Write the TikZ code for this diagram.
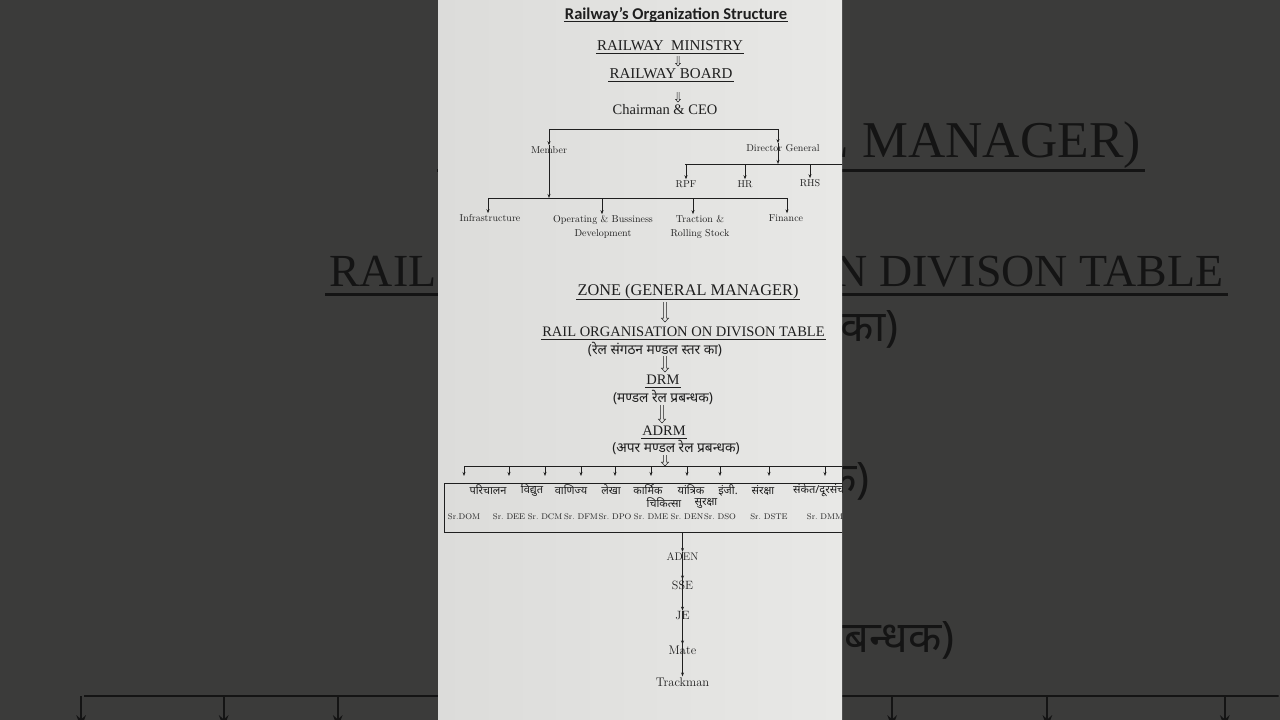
\documentclass[tikz,border=0pt]{standalone}
\usepackage{fontspec}
\usetikzlibrary{arrows.meta}
\newfontfamily\hindi[Script=Devanagari]{Noto Sans}
\newfontfamily\timesf{Liberation Serif}
\newfontfamily\calib{Carlito}

\definecolor{wall}{HTML}{3B3B3A}
\definecolor{paperL}{HTML}{DCDCDA}
\definecolor{paperR}{HTML}{E8E8E6}
\colorlet{ink}{black!88}

\tikzset{
  lbl/.style={text=ink, inner sep=1pt, font=\fontsize{10}{14}\selectfont},
  head/.style={text=ink, inner sep=1pt, font=\timesf\fontsize{15}{17}\selectfont},
  hin/.style={text=ink, inner sep=1pt, font=\hindi\fontsize{13.7}{15}\selectfont},
  hinsm/.style={text=ink, inner sep=0pt, font=\hindi\fontsize{11}{12}\selectfont},
  srcode/.style={text=ink, inner sep=1pt, font=\fontsize{8.2}{10}\selectfont},
  rank/.style={text=ink, inner sep=1pt, font=\fontsize{12}{14}\selectfont},
  link/.style={draw=ink, line width=0.7pt},
  uln/.style={draw=ink, line width=1pt},
}

% underline below the base line of a node
\newcommand\undr[2]{\draw[uln] ([yshift=-#2]#1.base west) -- ([yshift=-#2]#1.base east);}
% hollow down arrow: x, top, bottom, half width of shaft
\newcommand\hollowdown[4]{\draw[ink, line width=0.5pt]
  (#1-#4,#2) -- (#1-#4,#3-2.6*#4) -- (#1-2.4*#4,#3-2.6*#4) -- (#1,#3)
  -- (#1+2.4*#4,#3-2.6*#4) -- (#1+#4,#3-2.6*#4) -- (#1+#4,#2);}

\newcommand\railchart{%
\begin{scope}
\clip (438,0) rectangle (842,720);
% top part
\node[text=ink, inner sep=1pt, font=\calib\bfseries\fontsize{16.5}{18}\selectfont] (title) at (676,15) {Railway’s Organization Structure};
\undr{title}{2pt}
\node[head] (ministry) at (670,46) {RAILWAY\ \ MINISTRY};
\undr{ministry}{2.5pt}
\hollowdown{678}{56}{66}{1}
\node[head] (board) at (671,74) {RAILWAY BOARD};
\undr{board}{2.5pt}
\hollowdown{678}{92}{102}{1}
\node[head, font=\timesf\fontsize{14.5}{16}\selectfont] (ceo) at (665,110) {Chairman \& CEO};
\node[lbl] (member) at (549,150) {Member};
\node[lbl] (dg) at (783,148) {Director General};
\node[lbl] (rpf) at (686,184) {RPF};
\node[lbl] (hr) at (745,184) {HR};
\node[lbl] (rhs) at (810,183) {RHS};
\node[lbl] (infra) at (490,218) {Infrastructure};
\node[lbl, align=center] (oper) at (603,227) {Operating \& Bussiness\\Development};
\node[lbl, align=center] (trac) at (700,227) {Traction \&\\Rolling Stock};
\node[lbl] (fin) at (786,218) {Finance};
\coordinate (mtop) at (549,129);
\coordinate (dtop) at (778,129);
\coordinate (lbar) at (488,198);
\coordinate (dbar) at (685,164);
\draw[link] (mtop) -- (dtop);
\draw[link,->] (mtop) -- (member.north);
\draw[link,->] (dtop) -- (dtop |- dg.north);
\draw[link,->] (member.north) -- (member.north |- lbar);
\draw[link] (lbar) -- (787,198);
\foreach \n/\px in {infra/488, oper/602, trac/693, fin/787}
  \draw[link,->] (\px,198) -- (\px,0 |- \n.north);
\draw[link,->] (dtop |- dg.north) -- (dtop |- dbar);
\draw[link] (dbar) -- (850,164);
\foreach \n in {rpf,hr,rhs}
  \draw[link,->] (\n.north |- dbar) -- (\n.north);
% division part
\node[head, font=\timesf\fontsize{16.3}{18}\selectfont] (zone) at (688,292) {ZONE (GENERAL MANAGER)};
\undr{zone}{4pt}
\hollowdown{665}{302}{322}{1.5}
\node[head, font=\timesf\fontsize{14.5}{16}\selectfont] (railorg) at (683.5,332) {RAIL ORGANISATION ON DIVISON TABLE};
\undr{railorg}{2.5pt}
\node[hin] (railorghi) at (655,349) {(रेल संगठन मण्डल स्तर का)};
\hollowdown{665}{356}{372}{1.5}
\node[head, font=\timesf\fontsize{14.5}{16}\selectfont] (drm) at (663,380) {DRM};
\undr{drm}{2.5pt}
\node[hin] (drmhi) at (663,397) {(मण्डल रेल प्रबन्धक)};
\hollowdown{662}{405}{423}{1.5}
\node[head, font=\timesf\fontsize{14.5}{16}\selectfont] (adrm) at (664,431) {ADRM};
\undr{adrm}{2.5pt}
\node[hin] (adrmhi) at (676,447) {(अपर मण्डल रेल प्रबन्धक)};
\hollowdown{665}{455}{466}{1.5}
% departments
\coordinate (deptbar) at (465,466);
\coordinate (depttip) at (465,476);
\draw[link] (deptbar) -- (870,466);
\draw[link] (444,483) rectangle (880,532);
\node[hinsm] (parichalan) at (488,490) {परिचालन};
\node[hinsm] (vidyut) at (532,490) {विद्युत};
\node[hinsm] (vanijya) at (571,490) {वाणिज्य};
\node[hinsm] (lekha) at (611,490) {लेखा};
\node[hinsm] (karmik) at (648,490) {कार्मिक};
\node[hinsm] (yantrik) at (691,490) {यांत्रिक};
\node[hinsm] (inji) at (728,490) {इंजी.};
\node[hinsm] (sanraksha) at (763,490) {संरक्षा};
\node[hinsm, anchor=west] (sanket) at (793,490) {संकेत/दूरसंचार};
\node[hinsm] (chikitsa) at (664,503) {चिकित्सा};
\node[hinsm] (suraksha) at (706,503) {सुरक्षा};
\foreach \i/\px/\t in {1/464/Sr.DOM, 2/509/Sr.\ DEE, 3/545/Sr.\ DCM, 4/581/Sr.\ DFM,
  5/615/Sr.\ DPO, 6/651/Sr.\ DME, 7/687/Sr.\ DEN, 8/720/Sr.\ DSO, 9/769/Sr.\ DSTE, 10/825/Sr.\ DMM}
  \node[srcode] (sr\i) at (\px,517) {\t};
\foreach \i in {1,...,10}
  \draw[link,->] (sr\i |- deptbar) -- (sr\i |- depttip);
% field staff
\coordinate (boxbot) at (682.5,532);
\node[rank, font=\fontsize{11}{13}\selectfont] (aden) at (682.5,557) {ADEN};
\node[rank] (sse) at (682.5,585) {SSE};
\node[rank] (je) at (682.5,616) {JE};
\node[rank, font=\fontsize{12.5}{14}\selectfont] (mate) at (682.5,650) {Mate};
\node[rank, font=\fontsize{12.5}{14}\selectfont] (trackman) at (682.5,682) {Trackman};
\draw[link,->] (boxbot) -- (aden.north);
\draw[link,->] (aden.north) -- (sse.north);
\draw[link,->] (sse.north) -- (je.north);
\draw[link,->] (je.north) -- (mate.north);
\draw[link,->] (mate.north) -- (trackman.north);
\end{scope}}

\begin{document}
\begin{tikzpicture}[x=1pt,y=-1pt,>={Stealth[length=4pt,width=3pt]}]
\useasboundingbox (0,0) rectangle (1280,720);
\clip (0,0) rectangle (1280,720);
\fill[wall] (0,0) rectangle (1280,720);
% blurred enlarged copy behind the sheet
\begin{scope}[transform canvas={scale around={3.168:(640.6,359.8)}}, name prefix=bg-]
\colorlet{ink}{black!92}
\railchart
\end{scope}
% the sheet
\shade[left color=paperL, right color=paperR] (438,0) rectangle (842,720);
\railchart
\end{tikzpicture}
\end{document}
